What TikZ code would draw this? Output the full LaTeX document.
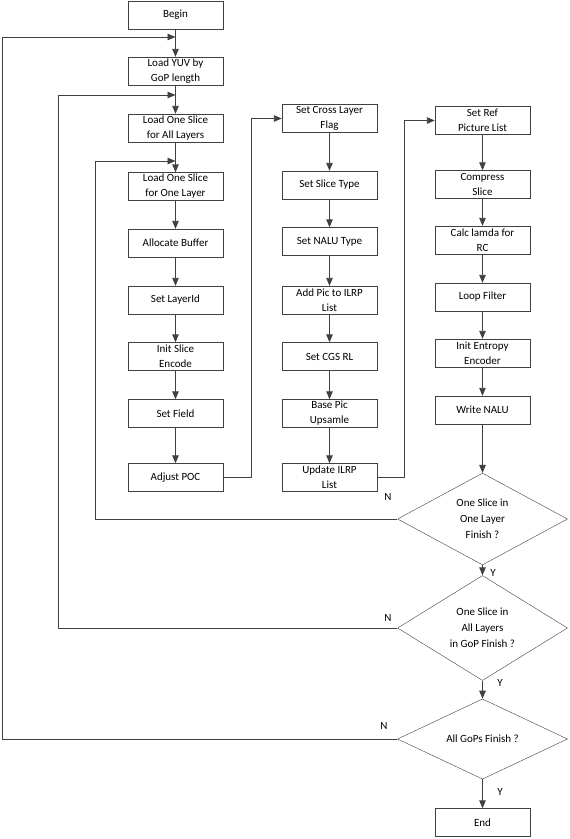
\documentclass[tikz,border=0pt]{standalone}
\usepackage{fontspec}
\setmainfont{Carlito}
\usetikzlibrary{shapes.geometric, arrows.meta, positioning}
\definecolor{lincol}{RGB}{64,64,64}

\begin{document}
\begin{tikzpicture}[x=1pt, y=-1pt,
      box/.style={draw=lincol, rectangle, minimum width=95pt, minimum height=28pt,
                  inner sep=1pt, align=center, font=\fontsize{11}{15}\selectfont},
      cond/.style={draw=lincol, diamond, minimum width=170pt, minimum height=80pt,
                   inner sep=0pt, align=center, font=\fontsize{11}{16}\selectfont},
      arr/.style={draw=lincol, line width=0.9pt, -{Triangle[length=8pt, width=6.5pt]}},
      ln/.style={draw=lincol, line width=0.9pt},
      card/.style={font=\fontsize{11}{13}\selectfont, inner sep=0pt}
    ]
    \useasboundingbox (0,0) rectangle (570,839);

    % Spalte 1
    \node[box] (begin)  at (175.5, 15)    {Begin};
    \node[box] (yuv)    at (175.5, 71)    {Load YUV by\\GoP length};
    \node[box] (all)    at (175.5, 128)   {Load One Slice\\for All Layers};
    \node[box] (one)    at (175.5, 186.5) {Load One Slice\\for One Layer};
    \node[box] (alloc)  at (175.5, 243)   {Allocate Buffer};
    \node[box] (layer)  at (175.5, 300)   {Set LayerId};
    \node[box] (init)   at (175.5, 356.5) {Init Slice\\Encode};
    \node[box] (field)  at (175.5, 413.5) {Set Field};
    \node[box] (poc)    at (175.5, 477.5) {Adjust POC};

    % Spalte 2
    \node[box] (cross)  at (329.5, 118.5) {Set Cross Layer\\Flag};
    \node[box] (stype)  at (329.5, 185)   {Set Slice Type};
    \node[box] (nalu)   at (329.5, 241.5) {Set NALU Type};
    \node[box] (addpic) at (329.5, 300)   {Add Pic to ILRP\\List};
    \node[box] (cgs)    at (329.5, 356.5) {Set CGS RL};
    \node[box] (base)   at (329.5, 413.5) {Base Pic\\Upsamle};
    \node[box] (upd)    at (329.5, 477.5) {Update ILRP\\List};

    % Spalte 3
    \node[box] (ref)      at (482.5, 120.5) {Set Ref\\Picture List};
    \node[box] (compress) at (482.5, 184.5) {Compress\\Slice};
    \node[box] (calc)     at (482.5, 240)   {Calc lamda for\\RC};
    \node[box] (loop)     at (482.5, 297)   {Loop Filter};
    \node[box] (entropy)  at (482.5, 353)   {Init Entropy\\Encoder};
    \node[box] (write)    at (482.5, 410)   {Write NALU};

    % Abfragen
    \node[cond] (d1)  at (482.5, 519) {One Slice in\\One Layer\\Finish ?};
    \node[cond] (d2)  at (482.5, 628) {One Slice in\\All Layers\\in GoP Finish ?};
    \node[cond] (d3)  at (482.5, 739) {All GoPs Finish ?};
    \node[box]  (end) at (482.5, 822.5) {End};

    % Einsprungpunkte der Schleifen
    \coordinate (in3) at (175.5, 37);
    \coordinate (in2) at (175.5, 95);
    \coordinate (in1) at (175.5, 161);

    % Verbindungen
    \foreach \a/\b in {begin/yuv, yuv/all, all/one, one/alloc, alloc/layer,
                       layer/init, init/field, field/poc,
                       cross/stype, stype/nalu, nalu/addpic, addpic/cgs,
                       cgs/base, base/upd,
                       ref/compress, compress/calc, calc/loop, loop/entropy,
                       entropy/write, write/d1}
      \draw[arr] (\a) -- (\b);
    \draw[arr] (poc.east) -- ++(28,0) |- (cross.west);
    \draw[arr] (upd.east) -- ++(27,0) |- (ref.west);

    % Ja-Zweige
    \draw[arr] (d1) -- (d2);
    \draw[arr] (d2) -- (d3);
    \draw[arr] (d3) -- (end);
    \node[card] (y1) at (493, 573) {Y};
    \node[card] (y2) at (500, 683) {Y};
    \node[card] (y3) at (500, 792) {Y};

    % Nein-Zweige
    \draw[arr] (d1.west) -| (95, 161) -- (in1);
    \draw[arr] (d2.west) -| (58, 95) -- (in2);
    \draw[arr] (d3.west) -| (2, 37) -- (in3);
    \node[card] (n1) at (388, 497) {N};
    \node[card] (n2) at (388, 618) {N};
    \node[card] (n3) at (384, 726) {N};
  \end{tikzpicture}
\end{document}
